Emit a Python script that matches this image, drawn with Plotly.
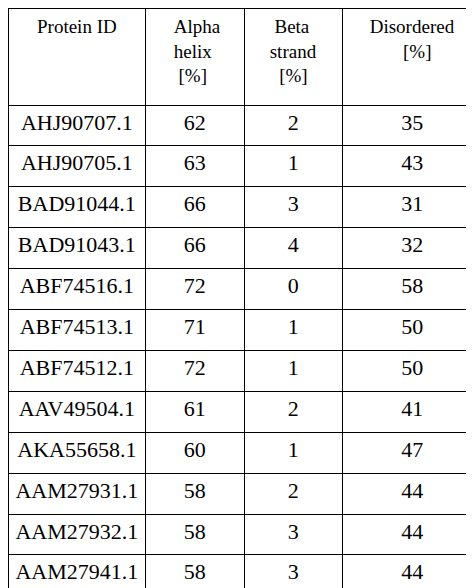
import plotly.graph_objects as go

protein_ids = ["AHJ90707.1","AHJ90705.1","BAD91044.1","BAD91043.1","ABF74516.1","ABF74513.1",
               "ABF74512.1","AAV49504.1","AKA55658.1","AAM27931.1","AAM27932.1","AAM27941.1"]
alpha = [62,63,66,66,72,71,72,61,60,58,58,58]
beta = [2,1,3,4,0,1,1,2,1,2,3,3]
disordered = [35,43,31,32,58,50,50,41,47,44,44,44]
headers = ["<br>Protein ID","&nbsp;Alpha<br>&nbsp;helix<br>&nbsp;&nbsp;[%]","&nbsp;Beta<br>strand<br>&nbsp;&nbsp;[%]","Disordered<br>&nbsp;&nbsp;&nbsp;&nbsp;&nbsp;&nbsp;&nbsp;[%]"]

fig = go.Figure(go.Table(
    columnwidth=[140,100,100,142],
    header=dict(values=headers, height=97, align=["center"]*4,
                line=dict(color="black", width=1), fill_color="white",
                font=dict(family="Liberation Serif", size=19, color="black")),
    cells=dict(values=[protein_ids, alpha, beta, disordered], height=40.9, align="center",
               line=dict(color="black", width=1), fill_color="white",
               font=dict(family="Liberation Serif", size=22, color="black")),
    domain=dict(x=[0, 1], y=[0, 1]),
))
fig.update_layout(width=474, height=588, margin=dict(l=0,r=0,t=0,b=0), paper_bgcolor="white")
fig.write_html("out.html")
